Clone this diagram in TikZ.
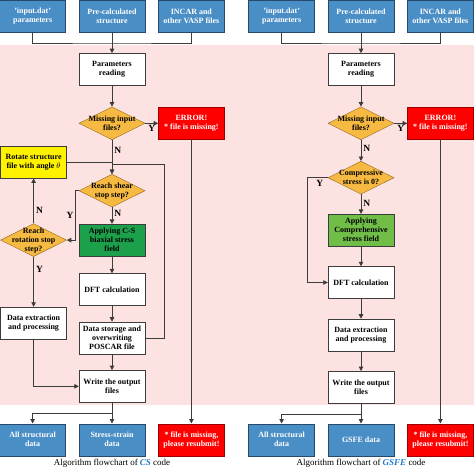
\documentclass[tikz,border=0pt]{standalone}
\usepackage{fontspec}
\setmainfont{Liberation Serif}
\usetikzlibrary{
  positioning,
  arrows.meta,
  shapes.geometric
}

\definecolor{bluefill}{RGB}{74,142,198}
\definecolor{blueline}{RGB}{38,74,110}
\definecolor{pinkbg}{RGB}{253,226,226}
\definecolor{orangefill}{RGB}{246,186,66}
\definecolor{orangeline}{RGB}{140,100,35}
\definecolor{csgreen}{RGB}{28,160,76}
\definecolor{gsfegreen}{RGB}{112,190,72}
\definecolor{lineclr}{RGB}{60,60,60}
\definecolor{capblue}{RGB}{30,120,200}

\begin{document}
\begin{tikzpicture}[
    x=1pt, y=-1pt,
    node distance=16pt,
    every node/.style={font=\fontsize{8}{9}\selectfont\bfseries},
    inbox/.style={
        rectangle,
        draw=blueline,
        fill=bluefill,
        text=white,
        align=center,
        minimum width=66pt,
        minimum height=32pt,
        inner sep=1pt
    },
    stepbox/.style={
        rectangle,
        draw=lineclr,
        fill=white,
        align=center,
        minimum width=66pt,
        minimum height=32pt,
        inner sep=1pt
    },
    errbox/.style={
        rectangle,
        draw=red!60!black,
        fill=red,
        text=white,
        align=center,
        minimum width=66pt,
        minimum height=32pt,
        inner sep=1pt
    },
    rotbox/.style={
        rectangle,
        draw=lineclr,
        fill=yellow,
        align=center,
        minimum width=66pt,
        minimum height=32pt,
        inner sep=1pt
    },
    csbox/.style={
        rectangle,
        draw=lineclr,
        fill=csgreen,
        align=center,
        minimum width=66pt,
        minimum height=32pt,
        inner sep=1pt
    },
    gsfebox/.style={
        rectangle,
        draw=lineclr,
        fill=gsfegreen,
        align=center,
        minimum width=66pt,
        minimum height=32pt,
        inner sep=1pt
    },
    decision/.style={
        diamond,
        draw=orangeline,
        fill=orangefill,
        minimum width=66pt,
        minimum height=33pt,
        inner sep=0pt,
        label={[align=center]center:#1}
    },
    yn/.style={font=\fontsize{9.5}{10}\selectfont\bfseries, inner sep=2pt},
    caption/.style={font=\fontsize{9}{10}\selectfont\mdseries},
    line/.style={draw=lineclr, line width=0.8pt},
    arrow/.style={-{Triangle[length=4.5pt,width=4.5pt]}, draw=lineclr, line width=0.8pt}
]

% Background of the calculation part
\fill[pinkbg] (0,45) rectangle (474,405);
\useasboundingbox (0,0) rectangle (474,474);

% ---------------- CS code ----------------
\node[inbox] (csin2) at (112,16) {Pre-calculated\\structure};
\node[inbox, left=13pt of csin2] (csin1) {'input.dat'\\parameters};
\node[inbox, right=13pt of csin2] (csin3) {INCAR and\\other VASP files};

\node[stepbox, below=21pt of csin2] (csread) {Parameters\\reading};
\node[decision={Missing input\\files?}, below=21pt of csread] (csmiss) {};
\node[errbox, right=13pt of csmiss] (cserr) {ERROR!\\* file is missing!};

\node[decision={Reach shear\\stop step?}, below=34pt of csmiss] (csshear) {};
\node[csbox, below=16.5pt of csshear] (csapply) {Applying C-S\\biaxial stress\\field};
\node[stepbox, below=17pt of csapply] (csdft) {DFT calculation};
\node[stepbox, below=of csdft] (csstore) {Data storage and\\overwriting\\POSCAR file};
\node[stepbox, below=of csstore] (cswrite) {Write the output\\files};

\node[decision={Reach\\rotation stop\\step?}, left=12pt of csapply] (csrotd) {};
\node[rotbox, above=45pt of csrotd] (csrot) {Rotate structure\\file with angle $\theta$};
\node[stepbox, below=50pt of csrotd] (csextr) {Data extraction\\and processing};

\node[inbox, below=21pt of cswrite] (csout2) {Stress-strain\\data};
\node[inbox, left=13pt of csout2] (csout1) {All structural\\data};
\node[errbox, right=13pt of csout2] (csout3) {* file is missing,\\please resubmit!};

\node[caption] (cscap) at (112,463) {Algorithm flowchart of \textcolor{capblue}{\bfseries\itshape CS} code};

\coordinate (csjoin) at (112,43);
\coordinate (csloop) at (164,164);

% Arrows
\draw[line] (csin1.south) |- (csjoin) -| (csin3.south);
\draw[arrow] (csin2) -- (csread);
\draw[arrow] (csread) -- (csmiss);
\draw[arrow] (csmiss) -- node[yn, below] {Y} (cserr);
\draw[arrow] (csmiss) -- node[yn, right, pos=0.3] {N} (csshear);
\draw[arrow] (csshear) -- node[yn, right, pos=0.35] {N} (csapply);
\draw[arrow] (csshear.west) -- ++(-3,0) |- node[yn, left, pos=0.25] {Y} (csrotd.east);
\draw[arrow] (csrotd.north) -- node[yn, right, pos=0.3] {N} (csrot.south);
\draw[arrow] (csrotd.south) -- node[yn, right, pos=0.25] {Y} (csextr.north);
\draw[line] (csrot.east) -- (csrot.east -| csshear.north);
\draw[arrow] (csstore.east) -| (csloop) -| (csshear.north);
\draw[arrow] (csapply) -- (csdft);
\draw[arrow] (csdft) -- (csstore);
\draw[arrow] (csstore) -- (cswrite);
\draw[arrow] (csextr.south) |- (cswrite.west);
\draw[arrow] (cswrite) -- (csout2);
\draw[arrow] (cswrite.south) -- ++(0,11) -| (csout1.north);
\draw[arrow] (cserr) -- (csout3);

% ---------------- GSFE code ----------------
\node[inbox] (gsin2) at (361,16) {Pre-calculated\\structure};
\node[inbox, left=13pt of gsin2] (gsin1) {'input.dat'\\parameters};
\node[inbox, right=13pt of gsin2] (gsin3) {INCAR and\\other VASP files};

\node[stepbox, below=21pt of gsin2] (gsread) {Parameters\\reading};
\node[decision={Missing input\\files?}, below=21pt of gsread] (gsmiss) {};
\node[errbox, right=13pt of gsmiss] (gserr) {ERROR!\\* file is missing!};

\node[decision={Compressive\\stress is 0?}, below=21pt of gsmiss] (gscomp) {};
\node[gsfebox, below=19.5pt of gscomp] (gsapply) {Applying\\Comprehensive\\stress field};
\node[stepbox, below=20pt of gsapply] (gsdft) {DFT calculation};
\node[stepbox, below=20pt of gsdft] (gsextr) {Data extraction\\and processing};
\node[stepbox, below=20pt of gsextr] (gswrite) {Write the output\\files};

\node[inbox, below=20pt of gswrite] (gsout2) {GSFE data};
\node[inbox, left=13pt of gsout2] (gsout1) {All structural\\data};
\node[errbox, right=13pt of gsout2] (gsout3) {* file is missing,\\please resubmit!};

\node[caption] (gscap) at (361,463) {Algorithm flowchart of \textcolor{capblue}{\bfseries\itshape GSFE} code};

\coordinate (gsjoin) at (361,43);

% Arrows
\draw[line] (gsin1.south) |- (gsjoin) -| (gsin3.south);
\draw[arrow] (gsin2) -- (gsread);
\draw[arrow] (gsread) -- (gsmiss);
\draw[arrow] (gsmiss) -- node[yn, below] {Y} (gserr);
\draw[arrow] (gsmiss) -- node[yn, right, pos=0.4] {N} (gscomp);
\draw[arrow] (gscomp) -- node[yn, right, pos=0.45] {N} (gsapply);
\draw[arrow] (gscomp.west) -- node[yn, below, pos=0.4] {Y} ++(-20,0) |- (gsdft.west);
\draw[arrow] (gsapply) -- (gsdft);
\draw[arrow] (gsdft) -- (gsextr);
\draw[arrow] (gsextr) -- (gswrite);
\draw[arrow] (gswrite) -- (gsout2);
\draw[arrow] (gswrite.south) -- ++(0,11) -| (gsout1.north);
\draw[arrow] (gserr) -- (gsout3);

\end{tikzpicture}
\end{document}
